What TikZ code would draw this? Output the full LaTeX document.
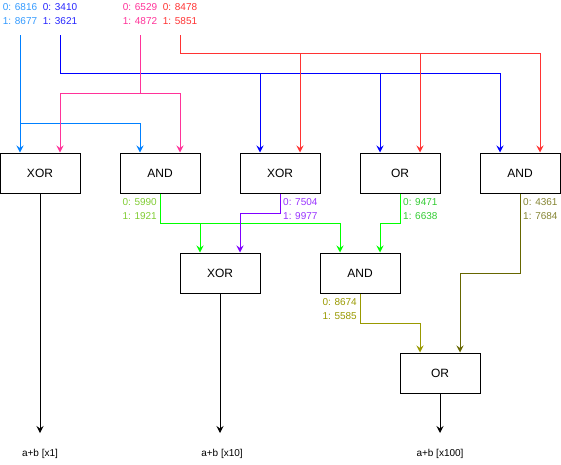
\documentclass[tikz,border=0pt]{standalone}
\usepackage{fontspec}
\setmainfont{Liberation Sans}
\usetikzlibrary{arrows.meta,calc}
\definecolor{cA}{HTML}{0080FF}
\definecolor{cB}{HTML}{0000FF}
\definecolor{cC}{HTML}{FF3399}
\definecolor{cD}{HTML}{FF3333}
\definecolor{gLine}{HTML}{00FF00}
\definecolor{gTxtA}{HTML}{80CC33}
\definecolor{gTxtB}{HTML}{33CC33}
\definecolor{pLine}{HTML}{7F00FF}
\definecolor{pTxt}{HTML}{9933FF}
\definecolor{oliveA}{HTML}{666600}
\definecolor{oliveB}{HTML}{999900}
\begin{document}
\begin{tikzpicture}[x=1pt,y=-1pt,
  gate/.style={draw=black, line width=1pt, minimum width=80pt, minimum height=40pt, inner sep=0pt, font=\fontsize{12}{14}\selectfont},
  lbl/.style={inner sep=0pt, align=center, font=\fontsize{10}{14}\selectfont},
  lblL/.style={lbl, align=left, anchor=west},
  lblR/.style={lbl, align=right, anchor=east},
  outlbl/.style={inner sep=0pt, font=\fontsize{10}{12}\selectfont},
  wire/.style={line width=1pt},
  arr/.style={wire, -{Stealth[length=7pt,width=7pt,inset=2.5pt]}}]
\useasboundingbox (0,0) rectangle (561,464);
% gates
\node[gate] (xor1) at (40,173) {XOR};
\node[gate] (and1) at (160,173) {AND};
\node[gate] (xor2) at (280,173) {XOR};
\node[gate] (or1)  at (400,173) {OR};
\node[gate] (and2) at (520,173) {AND};
\node[gate] (xor3) at (220,273) {XOR};
\node[gate] (and3) at (360,273) {AND};
\node[gate] (or2)  at (440,373) {OR};
% input labels
\node[lbl, text=cA!80!white] (inA) at (20,14) {0: 6816\\1: 8677};
\node[lbl, text=cB!85!white] (inB) at (60,14) {0: 3410\\1: 3621};
\node[lbl, text=cC] (inC) at (140,14) {0: 6529\\1: 4872};
\node[lbl, text=cD] (inD) at (180,14) {0: 8478\\1: 5851};
\coordinate (a0) at (20,35);
\coordinate (aJ) at (20,123);
\coordinate (b0) at (60,35);
\coordinate (bJ) at (60,73);
\coordinate (c0) at (140,35);
\coordinate (cJ) at (140,93);
\coordinate (d0) at (180,35);
\coordinate (dJ) at (180,53);
% input A
\draw[arr, cA] (a0) -- ([xshift=-20pt]xor1.north);
\draw[arr, cA] (aJ) -| ([xshift=-20pt]and1.north);
% input B
\draw[wire, cB] (b0) -- (bJ);
\draw[arr, cB] (bJ) -| ([xshift=-20pt]xor2.north);
\draw[arr, cB] (bJ) -| ([xshift=-20pt]or1.north);
\draw[arr, cB] (bJ) -| ([xshift=-20pt]and2.north);
% input C
\draw[wire, cC] (c0) -- (cJ);
\draw[arr, cC] (cJ) -| ([xshift=20pt]xor1.north);
\draw[arr, cC] (cJ) -| ([xshift=20pt]and1.north);
% input D
\draw[wire, cD] (d0) -- (dJ);
\draw[arr, cD] (dJ) -| ([xshift=20pt]xor2.north);
\draw[arr, cD] (dJ) -| ([xshift=20pt]or1.north);
\draw[arr, cD] (dJ) -| ([xshift=20pt]and2.north);
% AND1 output
\coordinate (gJ) at (160,223);
\draw[wire, gLine] (and1.south) -- (gJ);
\draw[arr, gLine] (gJ) -| ([xshift=-20pt]xor3.north);
\draw[arr, gLine] (gJ) -| ([xshift=-20pt]and3.north);
\node[lblR, text=gTxtA] (lAnd1) at (157,209) {0: 5990\\1: 1921};
% XOR2 output
\coordinate (pJ) at (280,213);
\draw[arr, pLine] (xor2.south) -- (pJ) -| ([xshift=20pt]xor3.north);
\node[lblL, text=pTxt] (lXor2) at (283,209) {0: 7504\\1: 9977};
% OR1 output
\coordinate (qJ) at (400,223);
\draw[arr, gLine] (or1.south) -- (qJ) -| ([xshift=20pt]and3.north);
\node[lblL, text=gTxtB] (lOr1) at (403,209) {0: 9471\\1: 6638};
% AND2 output
\coordinate (rJ) at (520,273);
\draw[arr, oliveA] (and2.south) -- (rJ) -| ([xshift=20pt]or2.north);
\node[lblL, text=oliveA!80!white] (lAnd2) at (523,209) {0: 4361\\1: 7684};
% AND3 output
\coordinate (sJ) at (360,323);
\draw[arr, oliveB] (and3.south) -- (sJ) -| ([xshift=-20pt]or2.north);
\node[lblR, text=oliveB] (lAnd3) at (357,309) {0: 8674\\1: 5585};
% outputs
\node[outlbl] (o1) at (40,454) {a+b [x1]};
\node[outlbl] (o2) at (222,454) {a+b [x10]};
\node[outlbl] (o3) at (440,454) {a+b [x100]};
\coordinate (e1) at (40,433);
\coordinate (e2) at (220,433);
\coordinate (e3) at (440,433);
\draw[arr, black] (xor1.south) -- (e1);
\draw[arr, black] (xor3.south) -- (e2);
\draw[arr, black] (or2.south) -- (e3);
\end{tikzpicture}
\end{document}
